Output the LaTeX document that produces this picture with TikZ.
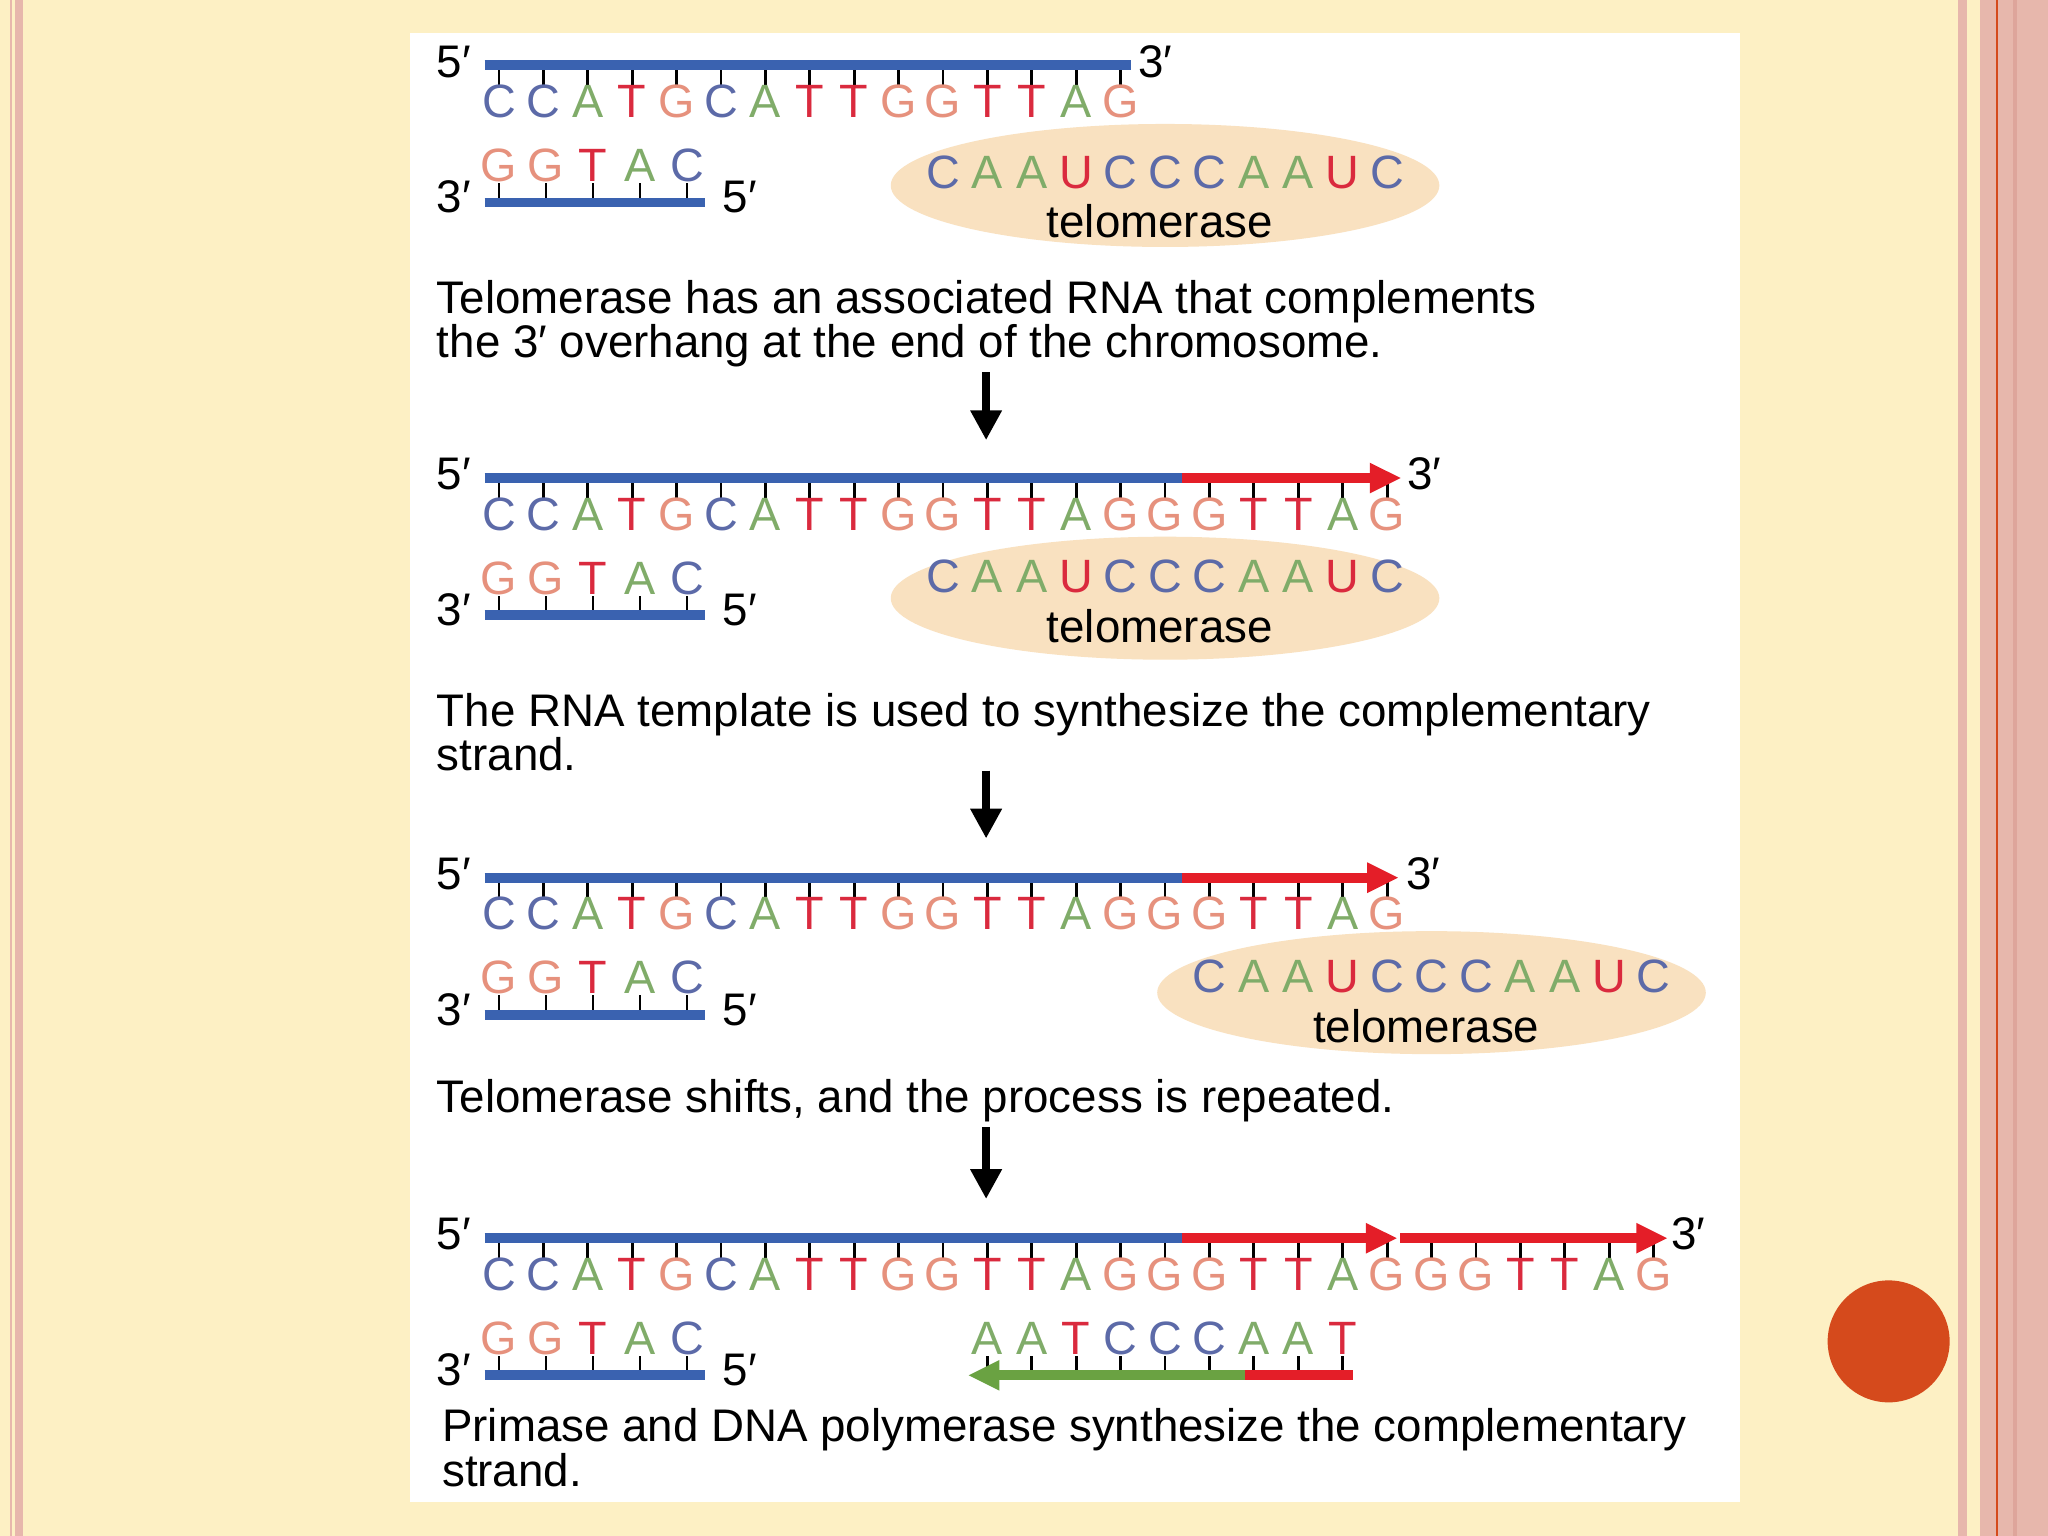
\documentclass[tikz,border=0pt]{standalone}
\usepackage{fontspec}
\setmainfont{Liberation Sans}
\usetikzlibrary{arrows.meta,shapes.geometric}

\definecolor{slidebg}{RGB}{253,240,196}
\definecolor{stripe}{RGB}{231,183,172}
\definecolor{stripedark}{RGB}{222,165,155}
\definecolor{dotred}{RGB}{213,74,28}
\definecolor{dnablue}{RGB}{58,98,176}
\definecolor{dnared}{RGB}{228,30,40}
\definecolor{dnagreen}{RGB}{106,162,66}
\definecolor{enzymefill}{RGB}{249,225,192}
\definecolor{ntA}{RGB}{128,172,105}
\definecolor{ntC}{RGB}{92,106,168}
\definecolor{ntG}{RGB}{230,145,125}
\definecolor{ntT}{RGB}{218,42,62}
\colorlet{ntU}{ntT}

\newcommand{\lblsize}{\fontsize{13pt}{12.6pt}\selectfont}
\newcommand{\ntsize}{\fontsize{13.3pt}{13.3pt}\selectfont}

\begin{document}
\begin{tikzpicture}[x=0.13061mm, y=-0.13061mm,
    nt/.style={anchor=base, inner sep=0pt, font=\ntsize},
    lbl/.style={anchor=base west, inner sep=0pt, font=\lblsize},
    tick/.style={line width=0.8pt, black},
    strand/.style={line width=2.8pt, dnablue},
    newdna/.style={line width=2.8pt, dnared, -{Triangle[length=9pt,width=8pt]}},
    enzyme/.style={ellipse, fill=enzymefill, minimum width=54.86mm, minimum height=12.3mm, inner sep=0pt},
    down/.style={line width=2.2pt, -{Triangle[length=8.5pt,width=8.5pt]}}]

    % slide
    \useasboundingbox (0,0) rectangle (1568,1176);
    \fill[slidebg] (0,0) rectangle (1568,1176);
    \fill[stripe] (7.7,0) rectangle (9.2,1176);
    \fill[stripe] (11.5,0) rectangle (17.6,1176);
    \fill[stripe] (1499.2,0) rectangle (1506.1,1176);
    \fill[stripe] (1516.1,0) rectangle (1568,1176);
    \fill[stripedark] (1541.4,0) rectangle (1544.4,1176);
    \fill[dotred] (1528.4,0) rectangle (1530,1176);
    \fill[dotred] (1446,1027) circle (46.7);
    \fill[white] (313.9,25.3) rectangle (1332.5,1150);

    % step 1
    \begin{scope}
        \foreach \l [count=\i from 0] in {C,C,A,T,G,C,A,T,T,G,G,T,T,A,G} {
            \draw[tick] (382+34*\i,50) -- ++(0,15);
            \node[nt, text=nt\l] (p1t\i) at (382+34*\i,90) {\l};
        }
        \draw[strand] (371,50) -- (866,50);
        \node[lbl] (p1a) at (334,59) {5′};
        \node[lbl] (p1b) at (871,59) {3′};
        \foreach \l [count=\i from 0] in {G,G,T,A,C} {
            \draw[tick] (382+36*\i,155) -- ++(0,-15);
            \node[nt, text=nt\l] (p1c\i) at (382+36*\i,139) {\l};
        }
        \draw[strand] (371,155) -- (540,155);
        \node[lbl] (p1d) at (334,163) {3′};
        \node[lbl] (p1e) at (553,163) {5′};
        \node[enzyme] (p1tel) at (892,142) {};
        \foreach \l [count=\i from 10] in {C,A,A,U,C,C,C,A,A,U,C}
            \node[nt, text=nt\l] (p1r\i) at (382+34*\i,144) {\l};
        \node[lbl, anchor=base] (p1name) at (888,182) {telomerase};
        \node[lbl] (p1x) at (334,240) {Telomerase has an associated RNA that complements};
        \node[lbl] (p1y) at (334,274) {the 3′ overhang at the end of the chromosome.};
    \end{scope}
    \coordinate (s1) at (755,285);
    \coordinate (e1) at (755,337);
    \draw[down] (s1) -- (e1);

    % step 2
    \begin{scope}[shift={(0,316)}]
        \foreach \l [count=\i from 0] in {C,C,A,T,G,C,A,T,T,G,G,T,T,A,G,G,G,T,T,A,G} {
            \draw[tick] (382+34*\i,50) -- ++(0,15);
            \node[nt, text=nt\l] (p2t\i) at (382+34*\i,90) {\l};
        }
        \draw[strand] (371,50) -- (905,50);
        \draw[newdna] (905,50) -- (1073,50);
        \node[lbl] (p2a) at (334,59) {5′};
        \node[lbl] (p2b) at (1077,59) {3′};
        \foreach \l [count=\i from 0] in {G,G,T,A,C} {
            \draw[tick] (382+36*\i,155) -- ++(0,-15);
            \node[nt, text=nt\l] (p2c\i) at (382+36*\i,139) {\l};
        }
        \draw[strand] (371,155) -- (540,155);
        \node[lbl] (p2d) at (334,163) {3′};
        \node[lbl] (p2e) at (553,163) {5′};
        \node[enzyme] (p2tel) at (892,142) {};
        \foreach \l [count=\i from 10] in {C,A,A,U,C,C,C,A,A,U,C}
            \node[nt, text=nt\l] (p2r\i) at (382+34*\i,138) {\l};
        \node[lbl, anchor=base] (p2name) at (888,176) {telomerase};
        \node[lbl] (p2x) at (334,240) {The RNA template is used to synthesize the complementary};
        \node[lbl] (p2y) at (334,274) {strand.};
    \end{scope}
    \coordinate (s2) at (755,590);
    \coordinate (e2) at (755,642);
    \draw[down] (s2) -- (e2);

    % step 3
    \begin{scope}[shift={(0,622)}]
        \foreach \l [count=\i from 0] in {C,C,A,T,G,C,A,T,T,G,G,T,T,A,G,G,G,T,T,A,G} {
            \draw[tick] (382+34*\i,50) -- ++(0,15);
            \node[nt, text=nt\l] (p3t\i) at (382+34*\i,90) {\l};
        }
        \draw[strand] (371,50) -- (905,50);
        \draw[newdna] (905,50) -- (1071,50);
        \node[lbl] (p3a) at (334,59) {5′};
        \node[lbl] (p3b) at (1076,59) {3′};
        \foreach \l [count=\i from 0] in {G,G,T,A,C} {
            \draw[tick] (382+36*\i,155) -- ++(0,-15);
            \node[nt, text=nt\l] (p3c\i) at (382+36*\i,139) {\l};
        }
        \draw[strand] (371,155) -- (540,155);
        \node[lbl] (p3d) at (334,163) {3′};
        \node[lbl] (p3e) at (553,163) {5′};
        \node[enzyme] (p3tel) at (1096,138) {};
        \foreach \l [count=\i from 16] in {C,A,A,U,C,C,C,A,A,U,C}
            \node[nt, text=nt\l] (p3r\i) at (382+34*\i,138) {\l};
        \node[lbl, anchor=base] (p3name) at (1092,176) {telomerase};
        \node[lbl] (p3x) at (334,230) {Telomerase shifts, and the process is repeated.};
    \end{scope}
    \coordinate (s3) at (755,863);
    \coordinate (e3) at (755,918);
    \draw[down] (s3) -- (e3);

    % step 4
    \begin{scope}[shift={(0,898)}]
        \foreach \l [count=\i from 0] in {C,C,A,T,G,C,A,T,T,G,G,T,T,A,G,G,G,T,T,A,G,G,G,T,T,A,G} {
            \draw[tick] (382+34*\i,50) -- ++(0,15);
            \node[nt, text=nt\l] (p4t\i) at (382+34*\i,90) {\l};
        }
        \draw[strand] (371,50) -- (905,50);
        \draw[newdna] (905,50) -- (1070,50);
        \draw[newdna] (1072,50) -- (1277,50);
        \node[lbl] (p4a) at (334,59) {5′};
        \node[lbl] (p4b) at (1279,59) {3′};
        \foreach \l [count=\i from 0] in {G,G,T,A,C} {
            \draw[tick] (382+36*\i,155) -- ++(0,-15);
            \node[nt, text=nt\l] (p4c\i) at (382+36*\i,139) {\l};
        }
        \draw[strand] (371,155) -- (540,155);
        \node[lbl] (p4d) at (334,163) {3′};
        \node[lbl] (p4e) at (553,163) {5′};
        \foreach \l [count=\i from 11] in {A,A,T,C,C,C,A,A,T} {
            \draw[tick] (382+34*\i,155) -- ++(0,-15);
            \node[nt, text=nt\l] (p4n\i) at (382+34*\i,139) {\l};
        }
        \draw[newdna, dnagreen] (953,155) -- (741,155);
        \draw[strand, dnared] (953,155) -- (1036,155);
        \node[lbl] (p4x) at (338,206) {Primase and DNA polymerase synthesize the complementary};
        \node[lbl] (p4y) at (338,240) {strand.};
    \end{scope}
\end{tikzpicture}
\end{document}
